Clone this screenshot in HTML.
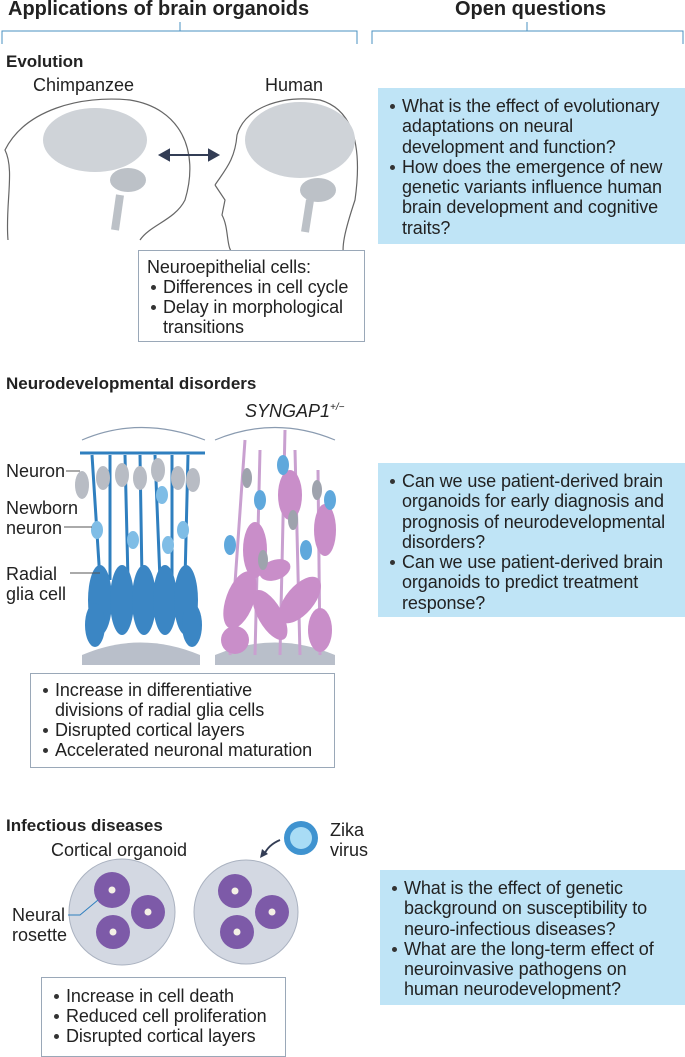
<!DOCTYPE html>
<html><head><meta charset="utf-8"><style>
body{margin:0;width:685px;height:1052px;background:#fff;position:relative;font-family:"Liberation Sans",sans-serif;color:#222;overflow:hidden}
.a{position:absolute;white-space:nowrap}
.h{font-weight:bold;font-size:20px}
.s{font-weight:bold;font-size:17px}
.t{font-size:18px;line-height:20px}
.blue{position:absolute;background:#bfe4f6;font-size:18px;line-height:20.3px;padding:8px 6px 0 24px;box-sizing:border-box;letter-spacing:-0.1px}
.blue div,.co div{position:relative;padding-left:0}
.blue div:before,.co div.b:before{content:"";position:absolute;left:-12px;top:8px;width:5px;height:5px;border-radius:50%;background:#333}
.co{position:absolute;border:1.3px solid #9aa8b8;background:#fff;font-size:18px;line-height:20px;box-sizing:border-box;padding:6px 4px 0 24px;letter-spacing:-0.1px}
</style></head><body>
<div class="a h" style="left:8px;top:-2px">Applications of brain organoids</div>
<div class="a h" style="left:455px;top:-2px">Open questions</div>
<svg class="a" style="left:0;top:0" width="685" height="1052">
<g stroke="#4a90c0" stroke-width="1" fill="none">
<path d="M2 44V31H357V44M180 31V22"/><path d="M372 44V31H683V44M527 31V22"/>
</g>
<g stroke="#666" stroke-width="1.2" fill="none">
<path d="M8 240C5 205 15 170 5 150C25 110 80 95 130 100C180 108 200 150 185 200C175 220 150 225 140 240"/>
<path d="M215 185C225 170 235 160 237 135C245 108 280 95 320 100C355 110 362 150 355 200C345 230 340 250 345 260"/>
<path d="M215 185L225 200L222 215C230 230 225 250 235 255"/>
</g>
<ellipse cx="95" cy="140" rx="52" ry="32" fill="#cfd3d8"/>
<ellipse cx="128" cy="180" rx="18" ry="12" fill="#bcc1c7"/>
<ellipse cx="300" cy="140" rx="55" ry="38" fill="#cfd3d8"/>
<ellipse cx="318" cy="190" rx="18" ry="12" fill="#bcc1c7"/>
<path d="M120 195L115 230" stroke="#bcc1c7" stroke-width="8"/>
<path d="M310 200L305 232" stroke="#bcc1c7" stroke-width="8"/>
<g stroke="#333d55" stroke-width="2" fill="#333d55"><path d="M166 155H212"/><path d="M160 155l9-5v10z"/><path d="M218 155l-9-5v10z"/></g>
<path d="M82 440Q140 415 205 440" stroke="#8a9bb0" fill="none" stroke-width="1.2"/>
<path d="M215 440Q275 415 335 440" stroke="#8a9bb0" fill="none" stroke-width="1.2"/>
<path d="M82 665V655Q140 630 200 655V665Z" fill="#b9bfca"/>
<path d="M215 665V655Q275 630 335 655V665Z" fill="#b9bfca"/>
<g stroke="#2f7fbf" stroke-width="3" fill="none">
<path d="M80 453H205"/><path d="M92 455L100 580M110 455V580M125 455L128 580M140 455L142 580M155 455L160 580M172 455L172 580M188 455L185 580"/>
</g>
<g fill="#3b86c4">
<ellipse cx="100" cy="600" rx="12" ry="35"/><ellipse cx="122" cy="600" rx="12" ry="35"/><ellipse cx="144" cy="600" rx="12" ry="35"/><ellipse cx="165" cy="600" rx="12" ry="35"/><ellipse cx="186" cy="600" rx="12" ry="35"/>
<ellipse cx="95" cy="625" rx="10" ry="22"/><ellipse cx="192" cy="625" rx="10" ry="22"/>
</g>
<g fill="#7fbde6"><ellipse cx="97" cy="530" rx="6" ry="9"/><ellipse cx="133" cy="540" rx="6" ry="9"/><ellipse cx="168" cy="545" rx="6" ry="9"/><ellipse cx="162" cy="495" rx="6" ry="9"/><ellipse cx="183" cy="530" rx="6" ry="9"/></g>
<g fill="#b8bcc4"><ellipse cx="82" cy="485" rx="7" ry="14"/><ellipse cx="103" cy="478" rx="7" ry="12"/><ellipse cx="122" cy="475" rx="7" ry="12"/><ellipse cx="140" cy="478" rx="7" ry="12"/><ellipse cx="158" cy="470" rx="7" ry="12"/><ellipse cx="178" cy="478" rx="7" ry="12"/><ellipse cx="193" cy="480" rx="7" ry="12"/></g>
<g stroke="#c9a0d0" stroke-width="3" fill="none"><path d="M230 655L245 440M255 655L260 450M280 655L285 430M300 655L295 450M320 655L318 470"/></g>
<g fill="#c98ec9"><ellipse cx="240" cy="600" rx="14" ry="30" transform="rotate(20 240 600)"/><ellipse cx="270" cy="615" rx="12" ry="28" transform="rotate(-30 270 615)"/><ellipse cx="300" cy="600" rx="14" ry="28" transform="rotate(40 300 600)"/><ellipse cx="320" cy="630" rx="12" ry="22"/><ellipse cx="255" cy="550" rx="12" ry="28"/><ellipse cx="290" cy="495" rx="12" ry="25"/><ellipse cx="325" cy="530" rx="11" ry="26"/><ellipse cx="235" cy="640" rx="14" ry="14"/><ellipse cx="275" cy="570" rx="16" ry="10" transform="rotate(-20 275 570)"/></g>
<g fill="#5fa8dc"><ellipse cx="230" cy="545" rx="6" ry="10"/><ellipse cx="260" cy="500" rx="6" ry="10"/><ellipse cx="283" cy="465" rx="6" ry="10"/><ellipse cx="306" cy="550" rx="6" ry="10"/><ellipse cx="330" cy="500" rx="6" ry="10"/></g>
<g fill="#9ea3ad"><ellipse cx="247" cy="478" rx="5" ry="10"/><ellipse cx="263" cy="560" rx="5" ry="10"/><ellipse cx="293" cy="520" rx="5" ry="10"/><ellipse cx="317" cy="490" rx="5" ry="10"/></g>
<g stroke="#555" stroke-width="1"><path d="M66 471H80M64 527H92M70 573H100"/></g>
<circle cx="122" cy="912" r="53" fill="#d3d8e2" stroke="#aab2c0"/>
<circle cx="246" cy="912" r="52" fill="#d3d8e2" stroke="#aab2c0"/>
<g fill="#7d5aa8"><circle cx="112" cy="890" r="18"/><circle cx="148" cy="912" r="17"/><circle cx="113" cy="932" r="17"/><circle cx="235" cy="891" r="17"/><circle cx="272" cy="912" r="17"/><circle cx="237" cy="932" r="17"/></g>
<g fill="#f4f0e6"><circle cx="112" cy="890" r="3.5"/><circle cx="148" cy="912" r="3.5"/><circle cx="113" cy="932" r="3.5"/><circle cx="235" cy="891" r="3.5"/><circle cx="272" cy="912" r="3.5"/><circle cx="237" cy="932" r="3.5"/></g>
<path d="M68 915H80L98 900" stroke="#2f7fbf" fill="none"/>
<circle cx="301" cy="838" r="17" fill="#3f93d0"/><circle cx="301" cy="838" r="11" fill="#a9dcf5"/>
<path d="M280 840Q268 845 264 855" stroke="#333d55" stroke-width="1.8" fill="none"/><path d="M260 858l2-9 6 5z" fill="#333d55"/>
</svg>
<div class="a s" style="left:6px;top:52px">Evolution</div>
<div class="a t" style="left:33px;top:75px">Chimpanzee</div>
<div class="a t" style="left:265px;top:75px">Human</div>
<div class="blue" style="left:378px;top:88px;width:307px;height:156px">
<div>What is the effect of evolutionary adaptations on neural development and function?</div>
<div>How does the emergence of new genetic variants influence human brain development and cognitive traits?</div></div>
<div class="co" style="left:138px;top:250px;width:227px;height:92px;padding-left:8px">
<div>Neuroepithelial cells:</div><div class="b" style="margin-left:16px">Differences in cell cycle</div><div class="b" style="margin-left:16px">Delay in morphological transitions</div></div>
<div class="a s" style="left:6px;top:374px">Neurodevelopmental disorders</div>
<div class="a t" style="left:245px;top:398px;font-style:italic">SYNGAP1<sup style="font-size:10px">+/−</sup></div>
<div class="a t" style="left:6px;top:461px">Neuron</div>
<div class="a t" style="left:6px;top:498px">Newborn<br>neuron</div>
<div class="a t" style="left:6px;top:564px">Radial<br>glia cell</div>
<div class="blue" style="left:378px;top:463px;width:307px;height:154px">
<div>Can we use patient-derived brain organoids for early diagnosis and prognosis of neurodevelopmental disorders?</div>
<div>Can we use patient-derived brain organoids to predict treatment response?</div></div>
<div class="co" style="left:30px;top:673px;width:305px;height:95px;padding-right:40px">
<div class="b">Increase in differentiative divisions of radial glia cells</div><div class="b" style="white-space:nowrap">Disrupted cortical layers</div><div class="b" style="white-space:nowrap">Accelerated neuronal maturation</div></div>
<div class="a s" style="left:6px;top:816px">Infectious diseases</div>
<div class="a t" style="left:51px;top:840px">Cortical organoid</div>
<div class="a t" style="left:330px;top:820px">Zika<br>virus</div>
<div class="a t" style="left:12px;top:905px">Neural<br>rosette</div>
<div class="co" style="left:41px;top:977px;width:245px;height:80px;padding-top:8px">
<div class="b">Increase in cell death</div><div class="b">Reduced cell proliferation</div><div class="b">Disrupted cortical layers</div></div>
<div class="blue" style="left:380px;top:870px;width:305px;height:135px">
<div>What is the effect of genetic background on susceptibility to neuro-infectious diseases?</div>
<div>What are the long-term effect of neuroinvasive pathogens on human neurodevelopment?</div></div>
</body></html>
